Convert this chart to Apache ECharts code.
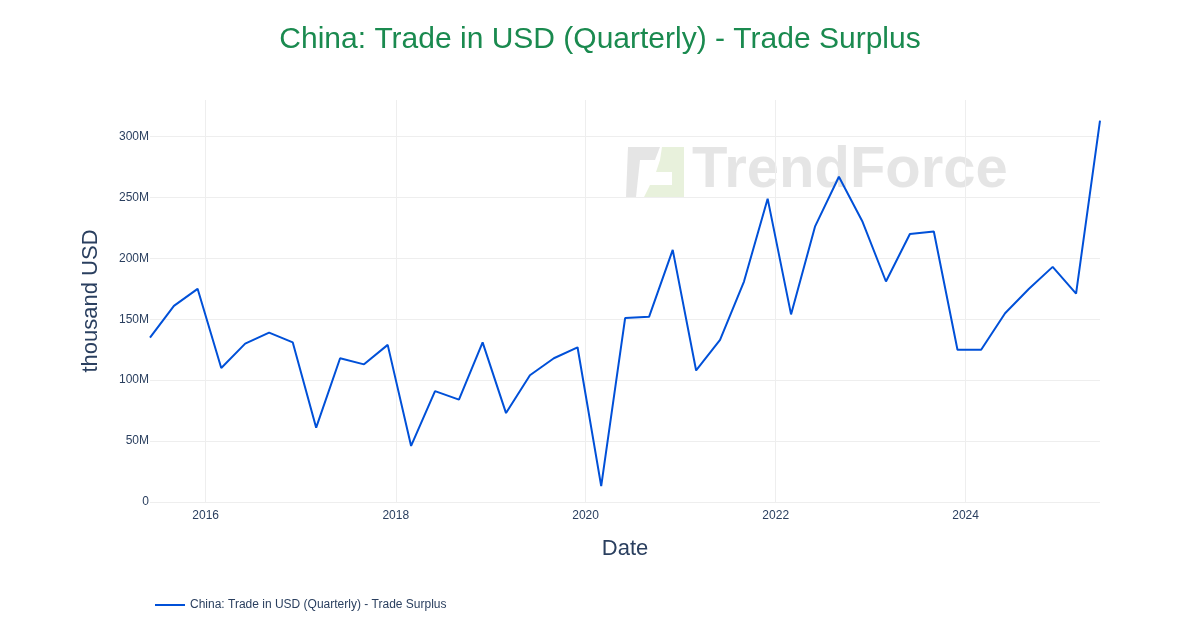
<!DOCTYPE html>
<html><head><meta charset="utf-8">
<script src="https://cdn.jsdelivr.net/npm/echarts@6/dist/echarts.min.js"></script>
<style>html,body{margin:0;background:#fff}#c{width:1200px;height:630px}</style></head>
<body><div id="c"></div>
<script>
const dates=['2015-06-01','2015-09-01','2015-12-01','2016-03-01','2016-06-01','2016-09-01','2016-12-01','2017-03-01','2017-06-01','2017-09-01','2017-12-01','2018-03-01','2018-06-01','2018-09-01','2018-12-01','2019-03-01','2019-06-01','2019-09-01','2019-12-01','2020-03-01','2020-06-01','2020-09-01','2020-12-01','2021-03-01','2021-06-01','2021-09-01','2021-12-01','2022-03-01','2022-06-01','2022-09-01','2022-12-01','2023-03-01','2023-06-01','2023-09-01','2023-12-01','2024-03-01','2024-06-01','2024-09-01','2024-12-01','2025-03-01','2025-06-01'];
const surplus=[135,161,175,110,130,139,131,61,118,113,129,46,91,84,131,73,104,118,127,13,151,152,207,108,133,181,249,154,226,267,230,181,220,222,125,125,155,175,193,171,313];
const xTicks=['2016-01-01','2018-01-01','2020-01-01','2022-01-01','2024-01-01'];
const yTicks=[0,50,100,150,200,250,300];
const seriesName='China: Trade in USD (Quarterly) - Trade Surplus';
const ts=d=>Date.UTC(+d.slice(0,4),+d.slice(5,7)-1,+d.slice(8,10));
const xt=xTicks.map(ts);
const chart=echarts.init(document.getElementById('c'));
chart.setOption({
 animation:false,
 title:{text:'China: Trade in USD (Quarterly) - Trade Surplus',left:'center',top:20,textStyle:{color:'#1a8a4f',fontSize:30,fontWeight:'normal',fontFamily:'Liberation Sans'}},
 graphic:[{type:'text',left:692,top:142,style:{text:'TrendForce',fontSize:58,fontWeight:'bold',fill:'rgba(170,170,170,0.3)',fontFamily:'Liberation Sans'}},
  {type:'polygon',shape:{points:[[628,147],[660,147],[655,160],[640,160],[636,197],[626,197]]},style:{fill:'rgba(170,170,170,0.3)'}},
  {type:'polygon',shape:{points:[[662,147],[684,147],[684,197],[644,197],[650,185],[672,185],[672,172],[656,172],[660,160]]},style:{fill:'rgba(180,210,140,0.3)'}}],
 grid:{left:150,right:100,top:100,bottom:128},
 legend:{left:150,top:594,itemWidth:30,itemHeight:2,icon:'rect',textStyle:{color:'#2a3f5f',fontSize:12,fontFamily:'Liberation Sans'}},
 xAxis:{type:'value',min:ts(dates[0]),max:ts(dates[dates.length-1]),name:'Date',nameLocation:'middle',nameGap:36,nameTextStyle:{fontSize:22,color:'#2a3f5f'},
   axisLine:{show:false},axisTick:{show:false,customValues:xt},
   axisLabel:{customValues:xt,formatter:v=>String(new Date(v).getUTCFullYear()),color:'#2a3f5f',fontSize:12},
   splitLine:{show:true,lineStyle:{color:'#eee'}}},
 yAxis:{type:'value',min:0,max:330,name:'thousand USD',nameLocation:'middle',nameGap:48,nameTextStyle:{fontSize:22,color:'#2a3f5f'},
   axisLine:{show:false},axisTick:{show:false,customValues:yTicks},
   axisLabel:{customValues:yTicks,margin:1,formatter:v=>v===0?'0':v+'M',color:'#2a3f5f',fontSize:12},
   splitLine:{lineStyle:{color:'#eee'}}},
 series:[{name:seriesName,type:'line',data:dates.map((d,i)=>[ts(d),surplus[i]]),showSymbol:false,lineStyle:{color:'#0050d8',width:2},itemStyle:{color:'#0050d8'}}]
});
</script></body></html>
